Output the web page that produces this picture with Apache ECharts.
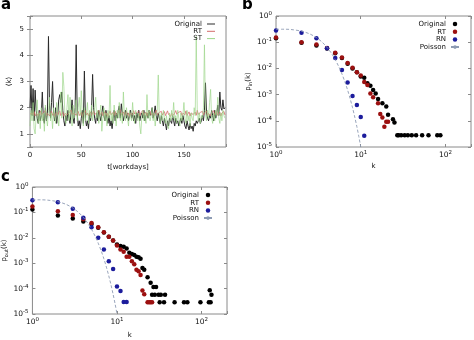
<!DOCTYPE html>
<html>
<head>
<meta charset="utf-8">
<script src="https://cdn.jsdelivr.net/npm/echarts@6/dist/echarts.min.js"></script>
<style>html,body{margin:0;padding:0;background:#fff;}#c{width:474px;height:340px;}</style>
</head>
<body>
<div id="c"></div>
<script>
// ---------- Panel a: <k> time series ----------
const origA = [2.0,2.85,1.7,2.73,1.5,2.67,1.9,1.6,1.4,1.9,
1.5,1.7,2.6,1.6,1.4,2.0,1.5,1.8,4.72,2.1,
1.6,2.2,3.0,1.8,1.5,2.0,1.4,1.7,2.3,2.5,
2.2,2.6,1.9,1.5,1.3,1.7,1.5,1.9,1.6,1.4,
1.8,2.3,1.6,1.4,2.0,4.4,1.8,1.3,1.5,1.2,
1.6,1.9,1.4,3.4,1.6,1.3,1.5,1.2,1.8,1.5,
1.9,3.27,2.0,1.6,1.4,1.8,1.5,1.9,1.7,1.5,
1.8,2.07,1.7,1.5,1.9,1.6,1.4,1.7,1.3,1.5,
1.2,1.6,1.9,1.5,1.8,1.6,1.9,2.07,1.6,2.15,
1.8,1.5,1.7,1.9,1.6,1.8,1.5,1.7,1.9,1.6,
1.8,1.5,1.7,1.4,1.8,1.6,1.9,1.5,1.7,1.8,
1.6,1.9,1.5,1.7,1.8,1.6,1.9,1.7,1.8,2.0,
1.6,1.8,2.07,1.7,1.5,1.8,1.6,1.4,1.7,1.5,
1.3,1.6,1.4,1.15,1.5,1.3,1.6,1.5,1.4,1.7,
1.5,1.3,1.6,1.4,1.5,1.3,1.3,1.6,1.4,1.7,
1.5,1.3,1.2,1.5,1.3,1.15,1.4,1.2,1.3,1.1,
1.4,1.3,1.5,1.4,1.37,1.6,1.4,1.5,1.7,1.5,
1.9,2.95,1.8,1.6,1.5,1.7,1.6,1.9,1.7,1.5,
1.9,1.6,1.8,2.1,1.7,2.6,2.0,1.9,2.3,1.95,2.0];
const rtA = [1.75,1.70,1.80,1.72,1.85,1.68,1.78,1.82,1.70,1.76,
1.88,1.72,1.65,1.80,1.74,1.90,1.70,1.78,1.84,1.69,
1.77,1.86,1.71,1.80,1.66,1.75,1.83,1.72,1.79,1.88,
1.70,1.76,1.82,1.67,1.78,1.85,1.73,1.69,1.80,1.76,
1.91,1.74,1.68,1.79,1.83,1.71,1.77,1.86,1.70,1.75,
1.82,1.66,1.78,1.74,1.89,1.72,1.80,1.69,1.76,1.84,
1.71,1.79,1.87,1.73,1.68,1.81,1.75,1.90,1.72,1.78,
1.83,1.69,1.76,1.85,1.71,1.80,1.67,1.77,1.88,1.73,
1.79,1.82,1.70,1.86,1.74,1.68,1.81,1.76,1.92,1.72,
1.78,1.84,1.69,1.75,1.87,1.71,1.80,1.66,1.79,1.83,
1.73,1.89,1.76,1.70,1.82,1.77,1.85,1.68,1.80,1.74,
1.90,1.72,1.78,1.83,1.69,1.81,1.75,1.87,1.71,1.79,
1.84,1.70,1.77,1.91,1.73,1.68,1.82,1.76,1.86,1.72,
1.79,1.85,1.70,1.77,1.88,1.74,1.81,1.67,1.78,1.84,
1.72,1.80,1.89,1.75,1.69,1.83,1.77,1.86,1.71,1.79,
1.82,1.73,1.88,1.70,1.76,1.84,1.68,1.80,1.87,1.74,
1.78,1.83,1.71,1.90,1.75,1.69,1.82,1.77,1.86,1.72,
1.80,1.74,1.88,1.70,1.78,1.84,1.69,1.81,1.76,1.89,
1.73,1.79,1.85,1.71,1.77,1.83,1.68,1.80,1.75,1.86,1.72];
const stA = [1.3,1.9,1.5,2.2,1.2,1.0,1.7,2.3,1.4,1.8,
1.2,2.0,1.5,1.8,1.1,2.1,1.6,1.3,1.9,2.4,
1.5,1.8,1.2,2.0,1.6,1.4,2.2,1.7,1.3,1.9,
2.6,1.6,3.35,2.8,1.7,1.4,2.0,2.5,1.5,2.4,
1.8,1.3,2.1,1.6,1.9,2.3,1.5,2.0,2.4,1.7,
2.65,1.6,1.3,2.0,1.5,1.8,2.2,1.4,1.9,1.6,
2.1,1.5,1.8,2.0,2.4,1.6,1.9,1.4,1.7,2.1,
1.1,1.6,2.0,1.5,1.8,1.3,1.9,1.6,2.85,1.5,
1.8,1.4,2.1,1.7,1.3,1.9,1.6,2.2,1.5,1.8,
1.4,2.6,1.7,1.5,2.0,1.6,1.3,1.9,1.7,1.5,
2.2,1.6,1.4,1.9,1.7,1.5,1.8,1.3,1.0,1.7,
1.9,1.5,1.8,1.4,2.5,1.6,1.9,1.5,1.7,2.0,
1.5,1.8,1.3,1.7,1.9,3.25,1.6,1.4,1.8,1.5,
1.9,1.6,1.4,1.7,1.3,1.2,1.8,1.5,1.9,1.6,
2.2,1.5,1.7,1.4,1.9,1.6,1.3,1.8,1.5,1.7,
2.2,1.6,1.4,1.9,1.5,1.7,1.3,1.8,1.6,1.5,
2.0,1.7,4.72,1.9,1.5,1.8,1.4,1.7,1.6,2.0,
4.4,1.8,1.5,1.9,1.6,2.2,2.7,1.6,1.4,1.8,
1.5,1.9,1.7,2.4,1.6,1.4,1.8,1.5,1.9,1.7,1.6];

// ---------- Panel b: p_in(k) ----------
const bOrigK = [1,2,3,4,5,6,7,8,9,10,11,12,13,14,15,16,18,20,21,24,25,27,28,30,33,36,40,45,53,63,80,87];
const bOrigP = [0.14,0.095,0.075,0.058,0.038,0.025,0.015,0.01,0.0072,0.0049,0.0044,0.0027,0.0022,0.0015,0.0011,0.00068,0.00047,0.00035,0.00017,0.000115,0.000087,
  0.000028,0.000028,0.000028,0.000028,0.000028,0.000028,0.000028,0.000028,0.000028,0.000028,0.000028];
const bRTK = [1,2,3,4,5,6,7,8,9,10,11,12,13,14,16,17,18,19,20,21];
const bRTP = [0.15,0.10,0.081,0.06,0.04,0.026,0.016,0.0107,0.0072,0.0054,0.003,0.0023,0.0011,0.0008,0.00047,0.00018,0.000135,0.000059,0.000091,0.000091];
const bRNK = [1,2,3,4,5,6,7,8,9,10,11];
const bRNP = [0.28,0.23,0.14,0.059,0.025,0.0087,0.0029,0.00089,0.0004,0.00014,0.000027];

// ---------- Panel c: p_out(k) ----------
const cOrigK = [1,2,3,4,5,6,7,8,9,10,11,12,13,14,15,16,17,18,19,20,21,23,25,27,29,26,28,31,33,37,32,36,48,62,68,97,122,125,131,128];
const cOrigP = [0.13,0.076,0.057,0.044,0.035,0.025,0.016,0.011,0.0078,0.0055,0.0048,0.0044,0.0038,0.0026,0.0023,0.0021,0.0018,0.0017,0.0015,0.00065,
  0.00055,0.00028,0.00017,0.000116,0.000116,0.000057,0.000057,0.000057,0.000057,0.000057,
  0.000029,0.000029,0.000029,0.000029,0.000029,0.000029,0.000029,0.000086,0.000057,0.000029];
const cRTK = [1,2,3,4,5,6,7,8,9,10,11,12,13,14,15,16,17,18,19,20,21,23,24,25,26];
const cRTP = [0.17,0.11,0.079,0.054,0.038,0.026,0.0165,0.011,0.0079,0.005,0.0035,0.0028,0.0018,0.0018,0.0012,0.0009,0.00055,0.00048,0.00034,0.000085,0.00006,0.000029,0.000029,0.000029,0.000029];
const cRNK = [1,2,3,4,5,6,7,8,9,10,11,12,13];
const cRNP = [0.30,0.25,0.14,0.062,0.026,0.01,0.0035,0.0012,0.00059,0.00012,0.000081,0.00003,0.00003];

// Poisson reference curve
const poisK = [1,1.25,1.5,2,2.5,3,3.5,4,4.5,5,5.5,6,6.5,7,7.5,8,8.5,9,9.5,10,10.5];
const poisP = [0.311,0.313,0.305,0.264,0.207,0.150,0.1006,0.0636,0.038,0.0216,0.01174,0.00613,0.00307,0.00149,0.000697,0.000316,0.000139,0.0000596,0.0000249,0.0000101,0.000004];

const xTicksA = [0,50,100,150];
const yTicksA = [1,2,3,4,5];

const FONT = 'DejaVu Sans';
const LBL = '#111';
const FRAME = '#8a8a8a';
const C_ORIG = '#000000', C_RT = '#9c1010', C_RN = '#1c1c9c', C_POIS = '#8d9bb3';
const zip = (a, b) => a.map((v, i) => [v, b[i]]);

const supLabel = v => {
  const e = Math.round(Math.log10(v));
  if (Math.abs(Math.log10(v) - e) > 1e-6) return '';
  return '{b|10}{e|' + e + '}';
};
const supRich = {b:{fontSize:7.5, fontFamily:FONT, color:LBL, lineHeight:11}, e:{fontSize:5.5, fontFamily:FONT, color:LBL, verticalAlign:'top'}};

function frameAxis(o){
  return Object.assign({
    axisLine:{show:false}, splitLine:{show:false},
    axisTick:{show:true, inside:true, length:3, lineStyle:{color:FRAME, width:1}},
    axisLabel:{fontSize:7, fontFamily:FONT, color:LBL, margin:5},
    nameTextStyle:{fontSize:7, fontFamily:FONT, color:LBL}
  }, o);
}
const mirror = o => frameAxis(Object.assign({axisLabel:{show:false}}, o));

const chart = echarts.init(document.getElementById('c'), null, {renderer:'canvas'});
const grids = [
  {left:30, top:16, width:196, height:131},
  {left:276, top:16, width:196, height:131},
  {left:29, top:187, width:198, height:130}
].map(g => Object.assign({show:true, borderColor:FRAME, borderWidth:1, backgroundColor:'transparent'}, g));

const legendText = {fontSize:7, fontFamily:FONT, color:LBL, lineHeight:7};
const option = {
  animation:false,
  backgroundColor:'#fff',
  grid: grids,
  graphic:[
    {type:'text', left:1, top:-2, style:{text:'a', font:'bold 15px "DejaVu Sans"', fill:'#000'}},
    {type:'text', left:242, top:-2, style:{text:'b', font:'bold 15px "DejaVu Sans"', fill:'#000'}},
    {type:'text', left:1, top:170, style:{text:'c', font:'bold 15px "DejaVu Sans"', fill:'#000'}}
  ],
  xAxis:[
    frameAxis({gridIndex:0, type:'value', min:0, max:191, interval:50,
      axisLabel:{fontSize:7, fontFamily:FONT, color:LBL, margin:5, formatter: v => xTicksA.includes(v) ? String(v) : ''},
      name:'t[workdays]', nameLocation:'middle', nameGap:17}),
    mirror({gridIndex:0, type:'value', min:0, max:191, interval:50, position:'top'}),
    frameAxis({gridIndex:1, type:'log', logBase:10, min:1, max:200, interval:1,
      axisLabel:{formatter:supLabel, rich:supRich, margin:3},
      name:'k', nameLocation:'middle', nameGap:16}),
    mirror({gridIndex:1, type:'log', logBase:10, min:1, max:200, interval:1, position:'top'}),
    frameAxis({gridIndex:2, type:'log', logBase:10, min:1, max:200, interval:1,
      axisLabel:{formatter:supLabel, rich:supRich, margin:3},
      name:'k', nameLocation:'middle', nameGap:18}),
    mirror({gridIndex:2, type:'log', logBase:10, min:1, max:200, interval:1, position:'top'})
  ],
  yAxis:[
    frameAxis({gridIndex:0, type:'value', min:0.5, max:5.5,
      axisLabel:{fontSize:7, fontFamily:FONT, color:LBL, margin:6, formatter: v => yTicksA.includes(v) ? String(v) : ''},
      name:'⟨k⟩', nameLocation:'middle', nameGap:17, nameRotate:90}),
    mirror({gridIndex:0, type:'value', min:0.5, max:5.5, position:'right'}),
    frameAxis({gridIndex:1, type:'log', logBase:10, min:0.00001, max:1, interval:1,
      axisLabel:{formatter:supLabel, rich:supRich, margin:4},
      name:'{p|p}{s|in}{p|(k)}', nameLocation:'middle', nameGap:22, nameRotate:90,
      nameTextStyle:{rich:{p:{fontSize:7, fontFamily:FONT, color:LBL, lineHeight:10}, s:{fontSize:5, fontFamily:FONT, color:LBL, verticalAlign:'bottom'}}}}),
    mirror({gridIndex:1, type:'log', logBase:10, min:0.00001, max:1, interval:1, position:'right'}),
    frameAxis({gridIndex:2, type:'log', logBase:10, min:0.00001, max:1, interval:1,
      axisLabel:{formatter:supLabel, rich:supRich, margin:4},
      name:'{p|p}{s|out}{p|(k)}', nameLocation:'middle', nameGap:20, nameRotate:90,
      nameTextStyle:{rich:{p:{fontSize:7, fontFamily:FONT, color:LBL, lineHeight:10}, s:{fontSize:5, fontFamily:FONT, color:LBL, verticalAlign:'bottom'}}}}),
    mirror({gridIndex:2, type:'log', logBase:10, min:0.00001, max:1, interval:1, position:'right'})
  ],
  legend:[
    {orient:'vertical', align:'right', right:254, top:15.5, itemWidth:8, itemHeight:1, itemGap:0.3,
      textStyle:legendText, formatter:n => n.slice(2),
      data:[{name:'a:Original', icon:'rect'},{name:'a:RT', icon:'rect'},{name:'a:ST', icon:'rect'}]},
    {orient:'vertical', align:'right', right:9, top:15.5, itemWidth:8, itemHeight:4.5, itemGap:0.7,
      textStyle:legendText, formatter:n => n.slice(2),
      data:[{name:'b:Original', icon:'circle'},{name:'b:RT', icon:'circle'},{name:'b:RN', icon:'circle'},'b:Poisson']},
    {orient:'vertical', align:'right', right:256, top:186.5, itemWidth:8, itemHeight:4.5, itemGap:0.7,
      textStyle:legendText, formatter:n => n.slice(2),
      data:[{name:'c:Original', icon:'circle'},{name:'c:RT', icon:'circle'},{name:'c:RN', icon:'circle'},'c:Poisson']}
  ],
  series:[
    {name:'a:Original', type:'line', xAxisIndex:0, yAxisIndex:0, symbol:'none', data: origA.map((v,i)=>[i,v]), lineStyle:{color:'#2a2a2a', width:1}, itemStyle:{color:'#2a2a2a'}},
    {name:'a:RT', type:'line', xAxisIndex:0, yAxisIndex:0, symbol:'none', data: rtA.map((v,i)=>[i,v]), lineStyle:{color:'#d46a6a', width:0.8}, itemStyle:{color:'#d46a6a'}},
    {name:'a:ST', type:'line', xAxisIndex:0, yAxisIndex:0, symbol:'none', data: stA.map((v,i)=>[i,v]), lineStyle:{color:'#9bd688', width:0.8, opacity:0.85}, itemStyle:{color:'#9bd688'}},

    {name:'b:Original', type:'scatter', xAxisIndex:2, yAxisIndex:2, symbolSize:4.5, data: zip(bOrigK,bOrigP), itemStyle:{color:C_ORIG, opacity:1}},
    {name:'b:RT', type:'scatter', xAxisIndex:2, yAxisIndex:2, symbolSize:4.5, data: zip(bRTK,bRTP), itemStyle:{color:C_RT, opacity:1}},
    {name:'b:RN', type:'scatter', xAxisIndex:2, yAxisIndex:2, symbolSize:4.5, data: zip(bRNK,bRNP), itemStyle:{color:C_RN, opacity:1}},
    {name:'b:Poisson', type:'line', xAxisIndex:2, yAxisIndex:2, symbol:'none', smooth:0.3, data: zip(poisK,poisP), lineStyle:{color:C_POIS, width:0.9, type:[3,2]}, itemStyle:{color:C_POIS}},

    {name:'c:Original', type:'scatter', xAxisIndex:4, yAxisIndex:4, symbolSize:4.5, data: zip(cOrigK,cOrigP), itemStyle:{color:C_ORIG, opacity:1}},
    {name:'c:RT', type:'scatter', xAxisIndex:4, yAxisIndex:4, symbolSize:4.5, data: zip(cRTK,cRTP), itemStyle:{color:C_RT, opacity:1}},
    {name:'c:RN', type:'scatter', xAxisIndex:4, yAxisIndex:4, symbolSize:4.5, data: zip(cRNK,cRNP), itemStyle:{color:C_RN, opacity:1}},
    {name:'c:Poisson', type:'line', xAxisIndex:4, yAxisIndex:4, symbol:'none', smooth:0.3, data: zip(poisK,poisP), lineStyle:{color:C_POIS, width:0.9, type:[3,2]}, itemStyle:{color:C_POIS}}
  ]
};
chart.setOption(option);
</script>
</body>
</html>
